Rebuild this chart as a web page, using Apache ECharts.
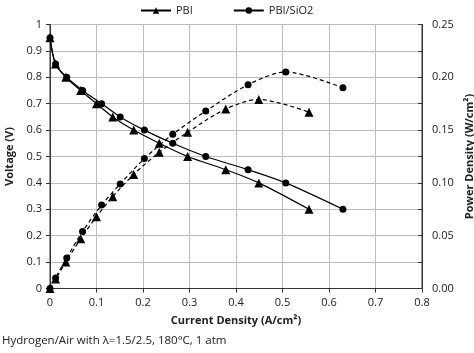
<!DOCTYPE html>
<html>
<head>
<meta charset="utf-8">
<script src="https://cdn.jsdelivr.net/npm/echarts@6/dist/echarts.min.js"></script>
<style>
  html, body { margin: 0; padding: 0; background: #fff; }
  #chart { width: 474px; height: 353px; }
</style>
</head>
<body>
<div id="chart"></div>
<script>
// current density (A/cm2) and voltage (V)
const pbiCurrent = [0, 0.012, 0.034, 0.066, 0.100, 0.135, 0.180, 0.235, 0.296, 0.378, 0.449, 0.557]
const pbiVoltage = [0.95, 0.85, 0.80, 0.75, 0.70, 0.65, 0.60, 0.55, 0.50, 0.45, 0.40, 0.30]
const pbiPower = [0, 0.009, 0.025, 0.047, 0.068, 0.087, 0.108, 0.129, 0.148, 0.170, 0.179, 0.167]

const sioCurrent = [0, 0.012, 0.036, 0.070, 0.111, 0.151, 0.203, 0.264, 0.335, 0.426, 0.507, 0.630]
const sioVoltage = [0.95, 0.85, 0.80, 0.75, 0.70, 0.65, 0.60, 0.55, 0.50, 0.45, 0.40, 0.30]
const sioPower = [0, 0.010, 0.029, 0.054, 0.079, 0.099, 0.123, 0.146, 0.168, 0.193, 0.205, 0.190]

const font = 'Open Sans'
const textColor = '#222'

const pairs = (xs, ys) => xs.map((x, i) => [x, ys[i]])

const chart = echarts.init(document.getElementById('chart'))

const lineSeries = (name, xs, ys, axis, symbol, size, dashed) => ({
  name: name,
  type: 'line',
  yAxisIndex: axis,
  data: pairs(xs, ys),
  smooth: 0.3,
  symbol: symbol,
  symbolSize: size,
  itemStyle: { color: '#000' },
  lineStyle: { color: '#000', width: 1.2, type: dashed ? [4, 3] : 'solid' },
  animation: false
})

chart.setOption({
  textStyle: { fontFamily: font },
  legend: {
    top: 0,
    left: 135,
    itemWidth: 30,
    itemHeight: 8,
    itemGap: 40,
    data: ['PBI', 'PBI/SiO2'],
    textStyle: { fontFamily: font, fontSize: 11, color: textColor }
  },
  grid: {
    left: 50,
    right: 52,
    top: 24.5,
    bottom: 64.5,
    outerBoundsMode: 'none',
    show: true,
    borderColor: '#333',
    borderWidth: 1
  },
  xAxis: {
    type: 'value',
    min: 0,
    max: 0.8,
    interval: 0.1,
    name: 'Current Density (A/cm²)',
    nameLocation: 'middle',
    nameGap: 27,
    nameTextStyle: { fontFamily: font, fontSize: 11, fontWeight: 'bold', color: textColor },
    axisLine: { lineStyle: { color: '#333' } },
    axisTick: { show: true, length: 4, lineStyle: { color: '#333' } },
    axisLabel: { fontFamily: font, fontSize: 11, color: textColor, margin: 9 },
    splitLine: { show: true, lineStyle: { color: '#bdbdbd' } }
  },
  yAxis: [
    {
      type: 'value',
      min: 0,
      max: 1,
      interval: 0.1,
      name: 'Voltage (V)',
      nameLocation: 'middle',
      nameRotate: 90,
      nameGap: 33,
      nameTextStyle: { fontFamily: font, fontSize: 11, fontWeight: 'bold', color: textColor },
      axisLine: { show: true, lineStyle: { color: '#333' } },
      axisTick: { show: true, length: 4, lineStyle: { color: '#333' } },
      axisLabel: { fontFamily: font, fontSize: 11, color: textColor, margin: 8 },
      splitLine: { show: true, lineStyle: { color: '#bdbdbd' } }
    },
    {
      type: 'value',
      min: 0,
      max: 0.25,
      interval: 0.05,
      position: 'right',
      name: 'Power Density (W/cm²)',
      nameLocation: 'middle',
      nameRotate: 90,
      nameGap: 40,
      nameTextStyle: { fontFamily: font, fontSize: 11, fontWeight: 'bold', color: textColor },
      axisLine: { show: true, lineStyle: { color: '#333' } },
      axisTick: { show: true, inside: true, length: 4, lineStyle: { color: '#333' } },
      minorTick: { show: true, splitNumber: 2, length: 4, lineStyle: { color: '#333' } },
      axisLabel: {
        fontFamily: font, fontSize: 11, color: textColor, margin: 10,
        formatter: v => v.toFixed(2)
      },
      splitLine: { show: false }
    }
  ],
  graphic: [
    {
      type: 'text',
      left: 2,
      top: 335,
      style: {
        text: 'Hydrogen/Air with λ=1.5/2.5, 180°C, 1 atm',
        fontFamily: font,
        fontSize: 11.5,
        fill: textColor
      }
    }
  ],
  series: [
    lineSeries('PBI', pbiCurrent, pbiVoltage, 0, 'triangle', 9, false),
    lineSeries('PBI/SiO2', sioCurrent, sioVoltage, 0, 'circle', 7, false),
    lineSeries('PBI', pbiCurrent, pbiPower, 1, 'triangle', 9, true),
    lineSeries('PBI/SiO2', sioCurrent, sioPower, 1, 'circle', 7, true)
  ]
})
</script>
</body>
</html>
